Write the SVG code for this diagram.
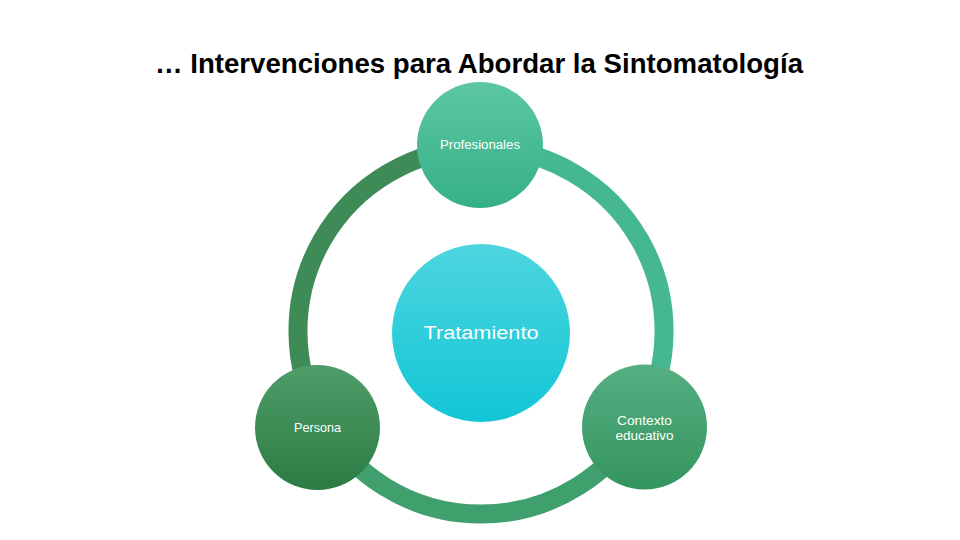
<svg xmlns="http://www.w3.org/2000/svg" width="960" height="540" viewBox="0 0 960 540">
<defs>
<linearGradient id="gProf" x1="0" y1="0" x2="0" y2="1"><stop offset="0" stop-color="#5cc7a3"/><stop offset="1" stop-color="#36b087"/></linearGradient>
<linearGradient id="gPers" x1="0" y1="0" x2="0" y2="1"><stop offset="0" stop-color="#4f9d69"/><stop offset="1" stop-color="#2c7b43"/></linearGradient>
<linearGradient id="gCont" x1="0" y1="0" x2="0" y2="1"><stop offset="0" stop-color="#55af82"/><stop offset="1" stop-color="#34945e"/></linearGradient>
<linearGradient id="gTrat" x1="0" y1="0" x2="0" y2="1"><stop offset="0" stop-color="#4dd5df"/><stop offset="1" stop-color="#12c6d6"/></linearGradient>
<style>
.arc{fill:none;stroke-width:19}
.lbl{font-family:"Liberation Sans",Arial,sans-serif;fill:#ffffff;text-anchor:middle}
.title{font-family:"Liberation Sans",Arial,sans-serif;font-weight:bold;font-size:27px;fill:#000000;text-anchor:middle}
</style>
</defs>
<rect width="960" height="540" fill="#ffffff"/>
<text class="title" x="479" y="73" textLength="648" lengthAdjust="spacingAndGlyphs">… Intervenciones para Abordar la Sintomatología</text>
<g id="connectors">
<path class="arc" stroke="#3f8b58" d="M481 148 A183 183 0 0 0 323.3 423.9"/>
<path class="arc" stroke="#3f9f6d" d="M323.3 423.9 A183 183 0 0 0 638.9 423.6"/>
<path class="arc" stroke="#45b893" d="M638.9 423.6 A183 183 0 0 0 481 148"/>
</g>
<g id="tratamiento">
<circle cx="481" cy="333" r="89" fill="url(#gTrat)"/>
<text class="lbl" x="481" y="339" font-size="18" textLength="115" lengthAdjust="spacingAndGlyphs">Tratamiento</text>
</g>
<g id="profesionales">
<circle cx="480" cy="145" r="63" fill="url(#gProf)"/>
<text class="lbl" x="480" y="149" font-size="12" textLength="80" lengthAdjust="spacingAndGlyphs">Profesionales</text>
</g>
<g id="persona">
<circle cx="317.5" cy="427.5" r="62.5" fill="url(#gPers)"/>
<text class="lbl" x="317.5" y="432" font-size="12" textLength="47" lengthAdjust="spacingAndGlyphs">Persona</text>
</g>
<g id="contexto">
<circle cx="644.5" cy="427" r="62.5" fill="url(#gCont)"/>
<text class="lbl" x="644.5" y="425" font-size="12" textLength="55" lengthAdjust="spacingAndGlyphs">Contexto</text>
<text class="lbl" x="644.5" y="440" font-size="12" textLength="58" lengthAdjust="spacingAndGlyphs">educativo</text>
</g>
</svg>
